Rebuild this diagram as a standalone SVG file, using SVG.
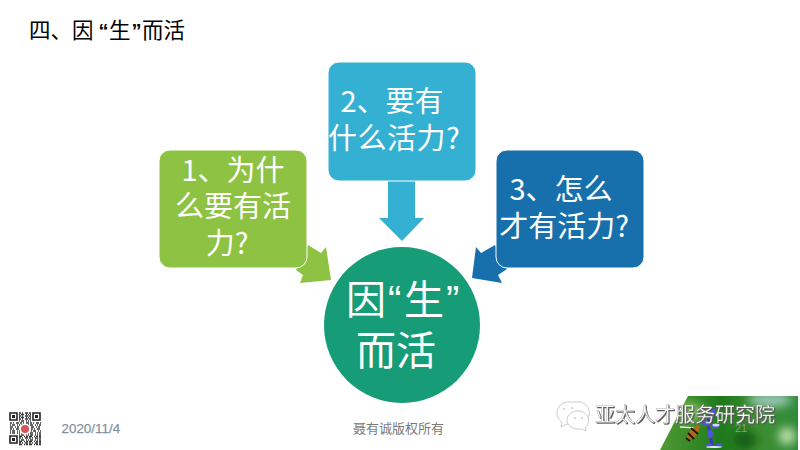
<svg xmlns="http://www.w3.org/2000/svg" width="800" height="450" viewBox="0 0 800 450">
<style>
text{font-family:"Noto Sans CJK SC","Liberation Sans",sans-serif}
.w{fill:#fff;font-size:29px;text-anchor:middle}
.box{stroke:#fff;stroke-width:1}
.q{font-family:"Liberation Sans",sans-serif}
.c{fill:#fff;font-size:40px}
</style>
<defs>
<linearGradient id="ph" x1="0" y1="0" x2="1" y2="0"><stop offset="0" stop-color="#4f9a33"/><stop offset="0.45" stop-color="#1f7a1c"/><stop offset="0.7" stop-color="#3d8f30"/><stop offset="1" stop-color="#2f8a3a"/></linearGradient>
<filter id="bl" x="-30%" y="-30%" width="160%" height="160%"><feGaussianBlur stdDeviation="5"/></filter>
<filter id="sh" x="-5%" y="-20%" width="110%" height="140%"><feDropShadow dx="1" dy="1" stdDeviation="0.300" flood-color="#555"/></filter>
<clipPath id="pc"><path d="M660 450L688 396H798V450Z"/></clipPath>
</defs>
<rect width="800" height="450" fill="#fff"/>
<text y="38" font-size="21.500" fill="#000"><tspan x="29">四、因</tspan><tspan class="q" x="98.500" font-size="20" font-weight="700">“</tspan><tspan x="109">生</tspan><tspan class="q" x="131.500" font-size="20" font-weight="700">”</tspan><tspan x="142">而活</tspan></text>
<g id="connectors">
<path fill="#8dc242" d="M308 245L321 253L326 247L331 280L300 283L303 275L296 270Z"/>
<path fill="#34b0d2" d="M388 181H415V218H424L402 241L379 218H388Z"/>
<path fill="#176fab" d="M495 245L481 253L476 247L472 278L502 283L498 275L507 269Z"/>
</g>
<g id="node1"><rect class="box" x="159" y="150" width="148" height="118" rx="11" fill="#8dc242"/>
<text class="w" x="233" y="181">1、为什</text><text class="w" x="233" y="217">么要有活</text><text class="w" x="227" y="254">力?</text></g>
<g id="node2"><rect class="box" x="328" y="62" width="148" height="119" rx="11" fill="#34b0d2"/>
<text class="w" x="392" y="112">2、要有</text><text class="w" x="394" y="149" letter-spacing=".5">什么活力?</text></g>
<g id="node3"><rect class="box" x="496" y="150" width="148" height="118" rx="11" fill="#176fab"/>
<text class="w" x="561" y="200">3、怎么</text><text class="w" x="564" y="237">才有活力?</text></g>
<g id="node0"><circle cx="402" cy="325" r="78" fill="#169c76"/>
<text class="c" y="314"><tspan x="346">因</tspan><tspan class="q" x="388">“</tspan><tspan x="404">生</tspan><tspan class="q" x="446">”</tspan></text>
<text class="c" x="356" y="365">而活</text></g>
<g id="qr">
<rect x="9" y="412" width="33" height="33" fill="#fff"/>
<g fill="none" stroke="#333" stroke-width="1.300">
<path stroke-dasharray="2 1 1 2 3 1" d="M19 413h12M19 416h12M19 419h12M10 423h31M10 429h10M31 429h10M19 438h22M19 443h22"/>
<path stroke-dasharray="1 1 3 2 1 1" d="M19 414.500h12M19 417.500h12M19 421h12M10 425h31M10 431h10M31 431h10M10 433h31M19 435h22M19 440h22"/>
<path stroke-dasharray="3 2 1 1 2 1" d="M10 427h10M31 427h10M19 436.500h22M19 441.500h22M19 444.500h22"/>
</g>
<path fill="none" stroke="#222" stroke-width="1.600" d="M10 413h7v7h-7zM33 413h7v7h-7zM10 436h7v7h-7z"/>
<path fill="#222" d="M12 415h3v3h-3zM35 415h3v3h-3zM12 438h3v3h-3z"/>
<circle cx="25" cy="429" r="5.500" fill="#fff"/>
<circle cx="25" cy="429" r="4" fill="#d9545c"/>
</g>
<text x="61.500" y="433" font-size="13.400" fill="#8492a0" stroke="#8492a0" stroke-width=".25" class="q">2020/11/4</text>
<text x="398.500" y="433" font-size="13" fill="#7a7a7a" text-anchor="middle">聂有诚版权所有</text>
<g id="photo">
<path d="M660 450L688 396H798V450Z" fill="url(#ph)"/>
<g clip-path="url(#pc)">
<g filter="url(#bl)">
<ellipse cx="770" cy="400" rx="22" ry="7" fill="#9cc7b8"/>
<circle cx="787" cy="436" r="9" fill="#b8dca8"/>
<ellipse cx="745" cy="440" rx="12" ry="10" fill="#145f14"/>
<ellipse cx="690" cy="412" rx="14" ry="10" fill="#7ab85a"/>
</g>
<path d="M711 408L708 424L712 445" fill="none" stroke="#3a3fb8" stroke-width="3"/>
<g fill="#4f55d8">
<ellipse cx="712" cy="413" rx="3.500" ry="6" transform="rotate(15 712 413)"/>
<ellipse cx="705" cy="423" rx="6" ry="2.500" transform="rotate(15 705 423)"/>
<ellipse cx="715" cy="426" rx="4" ry="2.500"/>
<ellipse cx="710" cy="434" rx="3" ry="4"/>
<ellipse cx="709" cy="445" rx="3" ry="1.500"/>
<ellipse cx="719" cy="445" rx="3.500" ry="1.500"/>
</g>
<ellipse cx="716" cy="425" rx="3.500" ry="1.500" fill="#cfd8f5"/>
<ellipse cx="714" cy="447" rx="8" ry="1" fill="#dfe6fb"/>
<path d="M680 427L697 428" stroke="#eee" stroke-width="1.500"/>
<ellipse cx="693" cy="433" rx="3.800" ry="9.500" transform="rotate(40 693 433)" fill="#b06c1c"/>
<path d="M691 428L698 434M688 433L694 439M686 438L690 441" stroke="#1c1408" stroke-width="1.800"/>
</g>
</g>
<g id="watermark">
<g fill="#fff" stroke="#ccc">
<path d="M568 402c-6 0-11 5-11 11 0 4 2 7 5 9l-1 5 6-3h8a10 10 0 0 0 6-22z"/>
<path d="M578 411c-6 0-11 4-11 9s5 9 11 9h4l4 2-.5-4c3-2 3-4.500 3-7 0-5-5-9-10.500-9z"/>
</g>
<g fill="#ccc"><circle cx="564" cy="409" r="1"/><circle cx="572" cy="408" r="1"/><circle cx="575" cy="418" r="1"/><circle cx="582" cy="418" r="1"/></g>
<text x="595" y="422" font-size="20" fill="#fff" stroke="#666" stroke-width=".25" filter="url(#sh)">亚太人才服务研究院</text>
</g>
<text x="735" y="432" font-size="11" fill="#8c9a8a" class="q">21</text>
</svg>
